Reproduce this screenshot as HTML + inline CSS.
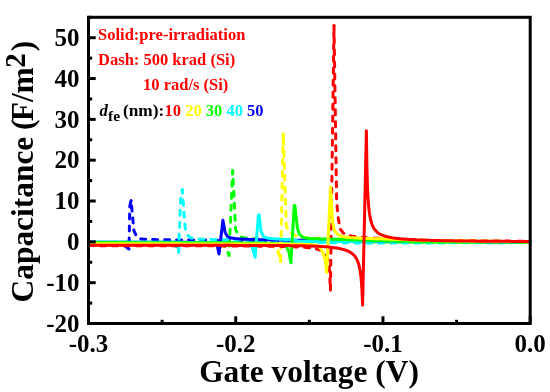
<!DOCTYPE html>
<html><head><meta charset="utf-8"><style>
html,body{margin:0;padding:0;background:#fff;}
svg{display:block;}
text{font-family:"Liberation Serif","Times New Roman",serif;font-weight:bold;}
</style></head><body>
<svg width="550" height="392" viewBox="0 0 550 392">
<rect width="550" height="392" fill="#fff"/>
<g fill="none" stroke-linejoin="round" stroke-linecap="butt">
<path d="M88.50,242.57 L90.50,242.59 L92.50,242.62 L94.50,242.65 L96.50,242.68 L98.50,242.72 L100.50,242.76 L101.00,242.77 L101.50,242.78 L102.00,242.79 L102.50,242.81 L103.00,242.82 L103.50,242.83 L104.00,242.85 L104.50,242.86 L105.00,242.88 L105.50,242.89 L106.00,242.91 L106.50,242.93 L107.00,242.94 L107.50,242.96 L108.00,242.98 L108.50,243.00 L109.00,243.02 L109.50,243.05 L110.00,243.07 L110.50,243.10 L111.00,243.12 L111.50,243.15 L112.00,243.18 L112.50,243.21 L113.00,243.24 L113.50,243.28 L114.00,243.32 L114.50,243.35 L115.00,243.40 L115.50,243.44 L116.00,243.49 L116.50,243.54 L117.00,243.60 L117.50,243.66 L118.00,243.72 L118.50,243.79 L119.00,243.87 L119.50,243.96 L120.00,244.05 L120.50,244.16 L121.00,244.27 L121.50,244.40 L122.00,244.55 L122.50,244.71 L123.00,244.90 L123.50,245.12 L124.00,245.37 L124.50,245.68 L125.30,246.30 L129.00,249.00 L129.80,206.00 L131.10,200.60 L133.90,230.50 L136.50,236.50 L140.00,238.80 L140.50,238.87 L141.00,238.92 L141.50,238.98 L142.00,239.03 L142.50,239.07 L143.00,239.11 L143.50,239.15 L144.00,239.19 L144.50,239.22 L145.00,239.25 L145.50,239.28 L146.00,239.30 L146.50,239.33 L147.00,239.35 L147.50,239.38 L148.00,239.40 L148.50,239.42 L149.00,239.44 L149.50,239.45 L150.00,239.47 L150.50,239.49 L151.00,239.50 L151.50,239.52 L152.00,239.53 L152.50,239.55 L153.00,239.56 L153.50,239.57 L154.00,239.58 L154.50,239.59 L155.00,239.61 L155.50,239.62 L156.00,239.63 L156.50,239.64 L157.00,239.65 L157.50,239.66 L158.00,239.67 L158.50,239.67 L159.00,239.68 L159.50,239.69 L160.00,239.70 L160.50,239.71 L161.00,239.72 L161.50,239.72 L162.00,239.73 L162.50,239.74 L163.00,239.74 L163.50,239.75 L164.00,239.76 L164.50,239.76 L165.00,239.77 L167.00,239.79 L169.00,239.82 L171.00,239.84 L173.00,239.86 L175.00,239.87 L177.00,239.89 L179.00,239.91 L181.00,239.92 L183.00,239.94 L185.00,239.95 L187.00,239.96 L189.00,239.98 L191.00,239.99 L193.00,240.00 L195.00,240.01 L197.00,240.03 L199.00,240.04 L201.00,240.05 L203.00,240.07 L205.00,240.09 L207.00,240.11 L209.00,240.13 L211.00,240.15 L213.00,240.17 L215.00,240.19 L217.00,240.21 L219.00,240.23 L221.00,240.25 L223.00,240.27 L225.00,240.28 L227.00,240.30 L229.00,240.32 L231.00,240.34 L233.00,240.36 L235.00,240.37 L237.00,240.39 L239.00,240.41 L241.00,240.43 L243.00,240.45 L245.00,240.46 L247.00,240.48 L249.00,240.50 L251.00,240.52 L253.00,240.53 L255.00,240.55 L257.00,240.57 L259.00,240.59 L261.00,240.60 L263.00,240.62 L265.00,240.64 L267.00,240.66 L269.00,240.67 L271.00,240.69 L273.00,240.71 L275.00,240.72 L277.00,240.74 L279.00,240.76 L281.00,240.78 L283.00,240.79 L285.00,240.81 L287.00,240.83 L289.00,240.84 L291.00,240.86 L293.00,240.88 L295.00,240.89 L297.00,240.91 L299.00,240.93 L301.00,240.94 L303.00,240.96 L305.00,240.97 L307.00,240.98 L309.00,240.99 L311.00,241.01 L313.00,241.02 L315.00,241.03 L317.00,241.05 L319.00,241.06 L321.00,241.07 L323.00,241.09 L325.00,241.10 L327.00,241.11 L329.00,241.13 L331.00,241.14 L333.00,241.15 L335.00,241.17 L337.00,241.18 L339.00,241.19 L341.00,241.20 L343.00,241.22 L345.00,241.23 L347.00,241.24 L349.00,241.26 L351.00,241.27 L353.00,241.28 L355.00,241.29 L357.00,241.31 L359.00,241.32 L361.00,241.33 L363.00,241.35 L365.00,241.36 L367.00,241.37 L369.00,241.39 L371.00,241.40 L373.00,241.41 L375.00,241.42 L377.00,241.44 L379.00,241.45 L381.00,241.46 L383.00,241.47 L385.00,241.47 L387.00,241.48 L389.00,241.49 L391.00,241.49 L393.00,241.50 L395.00,241.51 L397.00,241.52 L399.00,241.52 L401.00,241.53 L403.00,241.54 L405.00,241.54 L407.00,241.55 L409.00,241.56 L411.00,241.56 L413.00,241.57 L415.00,241.58 L417.00,241.59 L419.00,241.59 L421.00,241.60 L423.00,241.61 L425.00,241.61 L427.00,241.62 L429.00,241.63 L431.00,241.63 L433.00,241.64 L435.00,241.65 L437.00,241.65 L439.00,241.66 L441.00,241.67 L443.00,241.67 L445.00,241.68 L447.00,241.69 L449.00,241.70 L451.00,241.70 L453.00,241.71 L455.00,241.72 L457.00,241.72 L459.00,241.73 L461.00,241.74 L463.00,241.74 L465.00,241.75 L467.00,241.76 L469.00,241.76 L471.00,241.77 L473.00,241.78 L475.00,241.78 L477.00,241.79 L479.00,241.80 L481.00,241.81 L483.00,241.81 L485.00,241.82 L487.00,241.83 L489.00,241.83 L491.00,241.84 L493.00,241.85 L495.00,241.85 L497.00,241.86 L499.00,241.87 L501.00,241.87 L503.00,241.88 L505.00,241.89 L507.00,241.89 L509.00,241.90 L511.00,241.91 L513.00,241.91 L515.00,241.92 L517.00,241.93 L519.00,241.94 L521.00,241.94 L523.00,241.95 L525.00,241.96 L527.00,241.96 L529.00,241.97 L530.20,241.97" stroke="#0000ff" stroke-width="3.0" stroke-dasharray="5 7" stroke-linecap="round"/>
<circle cx="131.1" cy="200.6" r="1.5" fill="#0000ff" stroke="none"/>
<circle cx="129.0" cy="249.0" r="1.5" fill="#0000ff" stroke="none"/>
<path d="M88.50,242.25 L90.50,242.25 L92.50,242.26 L94.50,242.26 L96.50,242.26 L98.50,242.27 L100.50,242.27 L102.50,242.28 L104.50,242.28 L106.50,242.29 L108.50,242.29 L110.50,242.30 L112.50,242.30 L114.50,242.31 L116.50,242.32 L118.50,242.32 L120.50,242.33 L122.50,242.34 L124.50,242.35 L126.50,242.36 L128.50,242.37 L130.50,242.38 L132.50,242.39 L134.50,242.40 L136.50,242.42 L138.50,242.43 L140.50,242.45 L142.50,242.47 L144.50,242.49 L146.50,242.51 L148.50,242.54 L150.50,242.57 L151.00,242.58 L151.50,242.59 L152.00,242.59 L152.50,242.60 L153.00,242.61 L153.50,242.62 L154.00,242.63 L154.50,242.64 L155.00,242.66 L155.50,242.67 L156.00,242.68 L156.50,242.69 L157.00,242.70 L157.50,242.72 L158.00,242.73 L158.50,242.75 L159.00,242.76 L159.50,242.78 L160.00,242.80 L160.50,242.82 L161.00,242.84 L161.50,242.86 L162.00,242.88 L162.50,242.90 L163.00,242.92 L163.50,242.95 L164.00,242.98 L164.50,243.01 L165.00,243.04 L165.50,243.07 L166.00,243.11 L166.50,243.15 L167.00,243.19 L167.50,243.23 L168.00,243.28 L168.50,243.34 L169.00,243.40 L169.50,243.46 L170.00,243.53 L170.50,243.61 L171.00,243.70 L171.50,243.80 L172.00,243.91 L172.50,244.04 L173.00,244.19 L173.50,244.37 L174.00,244.57 L174.50,244.82 L175.00,245.12 L175.50,245.50 L178.60,252.30 L180.60,200.00 L182.30,189.80 L184.60,222.00 L185.60,230.00 L187.50,235.30 L191.00,238.00 L191.50,238.12 L192.00,238.23 L192.50,238.32 L193.00,238.41 L193.50,238.49 L194.00,238.56 L194.50,238.62 L195.00,238.68 L195.50,238.74 L196.00,238.79 L196.50,238.84 L197.00,238.88 L197.50,238.92 L198.00,238.96 L198.50,239.00 L199.00,239.03 L199.50,239.07 L200.00,239.10 L200.50,239.13 L201.00,239.15 L201.50,239.18 L202.00,239.21 L202.50,239.23 L203.00,239.25 L203.50,239.28 L204.00,239.30 L204.50,239.32 L205.00,239.34 L205.50,239.36 L206.00,239.38 L206.50,239.40 L207.00,239.41 L207.50,239.43 L208.00,239.45 L208.50,239.46 L209.00,239.48 L209.50,239.49 L210.00,239.51 L210.50,239.52 L211.00,239.54 L211.50,239.55 L212.00,239.56 L212.50,239.58 L213.00,239.59 L213.50,239.60 L214.00,239.61 L214.50,239.63 L215.00,239.64 L215.50,239.65 L216.00,239.66 L218.00,239.70 L220.00,239.75 L222.00,239.78 L224.00,239.82 L226.00,239.86 L228.00,239.89 L230.00,239.92 L232.00,239.95 L234.00,239.98 L236.00,240.01 L238.00,240.04 L240.00,240.07 L242.00,240.09 L244.00,240.12 L246.00,240.15 L248.00,240.17 L250.00,240.20 L252.00,240.22 L254.00,240.25 L256.00,240.27 L258.00,240.29 L260.00,240.32 L262.00,240.42 L264.00,240.52 L266.00,240.62 L268.00,240.72 L270.00,240.81 L272.00,240.91 L274.00,241.01 L276.00,241.11 L278.00,241.21 L280.00,241.31 L282.00,241.40 L284.00,241.50 L286.00,241.60 L288.00,241.70 L290.00,241.79 L292.00,241.89 L294.00,241.99 L296.00,242.09 L298.00,242.18 L300.00,242.28 L302.00,242.30 L304.00,242.32 L306.00,242.35 L308.00,242.37 L310.00,242.39 L312.00,242.41 L314.00,242.43 L316.00,242.45 L318.00,242.48 L320.00,242.50 L322.00,242.52 L324.00,242.54 L326.00,242.56 L328.00,242.58 L330.00,242.60 L332.00,242.63 L334.00,242.65 L336.00,242.67 L338.00,242.69 L340.00,242.71 L342.00,242.73 L344.00,242.75 L346.00,242.77 L348.00,242.80 L350.00,242.82 L352.00,242.84 L354.00,242.86 L356.00,242.88 L358.00,242.90 L360.00,242.92 L362.00,242.94 L364.00,242.96 L366.00,242.98 L368.00,243.00 L370.00,243.03 L372.00,243.05 L374.00,243.07 L376.00,243.09 L378.00,243.11 L380.00,243.13 L382.00,243.12 L384.00,243.11 L386.00,243.11 L388.00,243.10 L390.00,243.09 L392.00,243.09 L394.00,243.08 L396.00,243.07 L398.00,243.06 L400.00,243.06 L402.00,243.05 L404.00,243.04 L406.00,243.03 L408.00,243.03 L410.00,243.02 L412.00,243.01 L414.00,243.00 L416.00,243.00 L418.00,242.99 L420.00,242.98 L422.00,242.97 L424.00,242.97 L426.00,242.96 L428.00,242.95 L430.00,242.94 L432.00,242.94 L434.00,242.93 L436.00,242.92 L438.00,242.91 L440.00,242.91 L442.00,242.90 L444.00,242.89 L446.00,242.88 L448.00,242.88 L450.00,242.87 L452.00,242.86 L454.00,242.85 L456.00,242.84 L458.00,242.84 L460.00,242.83 L462.00,242.82 L464.00,242.81 L466.00,242.81 L468.00,242.80 L470.00,242.79 L472.00,242.78 L474.00,242.78 L476.00,242.77 L478.00,242.76 L480.00,242.75 L482.00,242.75 L484.00,242.74 L486.00,242.73 L488.00,242.72 L490.00,242.71 L492.00,242.71 L494.00,242.70 L496.00,242.69 L498.00,242.68 L500.00,242.68 L502.00,242.67 L504.00,242.66 L506.00,242.65 L508.00,242.65 L510.00,242.64 L512.00,242.63 L514.00,242.62 L516.00,242.61 L518.00,242.61 L520.00,242.60 L522.00,242.59 L524.00,242.58 L526.00,242.58 L528.00,242.57 L530.00,242.56 L530.20,242.56" stroke="#00ffff" stroke-width="3.0" stroke-dasharray="5 7" stroke-linecap="round"/>
<circle cx="182.3" cy="189.8" r="1.5" fill="#00ffff" stroke="none"/>
<circle cx="178.6" cy="252.3" r="1.5" fill="#00ffff" stroke="none"/>
<path d="M88.50,242.64 L90.50,242.64 L92.50,242.64 L94.50,242.64 L96.50,242.64 L98.50,242.65 L100.50,242.65 L102.50,242.65 L104.50,242.65 L106.50,242.66 L108.50,242.66 L110.50,242.66 L112.50,242.66 L114.50,242.67 L116.50,242.67 L118.50,242.67 L120.50,242.68 L122.50,242.68 L124.50,242.68 L126.50,242.69 L128.50,242.69 L130.50,242.69 L132.50,242.70 L134.50,242.70 L136.50,242.71 L138.50,242.71 L140.50,242.72 L142.50,242.72 L144.50,242.73 L146.50,242.73 L148.50,242.74 L150.50,242.74 L152.50,242.75 L154.50,242.75 L156.50,242.76 L158.50,242.77 L160.50,242.78 L162.50,242.79 L164.50,242.79 L166.50,242.80 L168.50,242.81 L170.50,242.82 L172.50,242.83 L174.50,242.85 L176.50,242.86 L178.50,242.87 L180.50,242.89 L182.50,242.91 L184.50,242.92 L186.50,242.94 L188.50,242.96 L190.50,242.99 L192.50,243.01 L194.50,243.04 L196.50,243.07 L198.50,243.11 L200.50,243.15 L202.50,243.20 L203.00,243.21 L203.50,243.23 L204.00,243.24 L204.50,243.25 L205.00,243.27 L205.50,243.29 L206.00,243.30 L206.50,243.32 L207.00,243.34 L207.50,243.36 L208.00,243.38 L208.50,243.40 L209.00,243.42 L209.50,243.44 L210.00,243.46 L210.50,243.49 L211.00,243.51 L211.50,243.54 L212.00,243.57 L212.50,243.60 L213.00,243.63 L213.50,243.67 L214.00,243.70 L214.50,243.74 L215.00,243.78 L215.50,243.83 L216.00,243.88 L216.50,243.93 L217.00,243.98 L217.50,244.04 L218.00,244.10 L218.50,244.17 L219.00,244.25 L219.50,244.33 L220.00,244.43 L220.50,244.53 L221.00,244.64 L221.50,244.76 L222.00,244.91 L222.50,245.07 L223.00,245.25 L223.50,245.46 L224.00,245.71 L224.50,246.00 L225.00,246.35 L225.50,246.78 L226.00,247.31 L226.50,248.00 L229.00,255.30 L232.70,170.80 L235.60,229.50 L238.00,234.50 L241.00,237.00 L241.50,237.16 L242.00,237.31 L242.50,237.44 L243.00,237.56 L243.50,237.66 L244.00,237.76 L244.50,237.84 L245.00,237.92 L245.50,238.00 L246.00,238.07 L246.50,238.13 L247.00,238.19 L247.50,238.25 L248.00,238.30 L248.50,238.35 L249.00,238.40 L249.50,238.44 L250.00,238.49 L250.50,238.53 L251.00,238.56 L251.50,238.60 L252.00,238.64 L252.50,238.67 L253.00,238.71 L253.50,238.74 L254.00,238.77 L254.50,238.80 L255.00,238.83 L255.50,238.85 L256.00,238.88 L256.50,238.91 L257.00,238.93 L257.50,238.96 L258.00,238.98 L258.50,239.01 L259.00,239.03 L259.50,239.05 L260.00,239.08 L260.50,239.10 L261.00,239.12 L261.50,239.14 L262.00,239.16 L262.50,239.18 L263.00,239.20 L263.50,239.22 L264.00,239.24 L264.50,239.26 L265.00,239.28 L265.50,239.29 L266.00,239.31 L268.00,239.38 L270.00,239.45 L272.00,239.51 L274.00,239.57 L276.00,239.63 L278.00,239.69 L280.00,239.75 L282.00,239.80 L284.00,239.86 L286.00,239.91 L288.00,239.96 L290.00,240.01 L292.00,240.06 L294.00,240.11 L296.00,240.16 L298.00,240.21 L300.00,240.25 L302.00,240.30 L304.00,240.34 L306.00,240.39 L308.00,240.43 L310.00,240.47 L312.00,240.52 L314.00,240.56 L316.00,240.60 L318.00,240.64 L320.00,240.69 L322.00,240.73 L324.00,240.77 L326.00,240.81 L328.00,240.85 L330.00,240.89 L332.00,240.93 L334.00,240.98 L336.00,241.02 L338.00,241.06 L340.00,241.10 L342.00,241.14 L344.00,241.18 L346.00,241.22 L348.00,241.26 L350.00,241.30 L352.00,241.34 L354.00,241.38 L356.00,241.42 L358.00,241.46 L360.00,241.50 L362.00,241.54 L364.00,241.58 L366.00,241.61 L368.00,241.65 L370.00,241.69 L372.00,241.73 L374.00,241.77 L376.00,241.81 L378.00,241.85 L380.00,241.89 L382.00,241.89 L384.00,241.90 L386.00,241.90 L388.00,241.91 L390.00,241.91 L392.00,241.91 L394.00,241.92 L396.00,241.92 L398.00,241.92 L400.00,241.93 L402.00,241.93 L404.00,241.94 L406.00,241.94 L408.00,241.94 L410.00,241.95 L412.00,241.95 L414.00,241.96 L416.00,241.96 L418.00,241.96 L420.00,241.97 L422.00,241.97 L424.00,241.97 L426.00,241.98 L428.00,241.98 L430.00,241.98 L432.00,241.99 L434.00,241.99 L436.00,241.99 L438.00,242.00 L440.00,242.00 L442.00,242.00 L444.00,242.01 L446.00,242.01 L448.00,242.01 L450.00,242.02 L452.00,242.02 L454.00,242.02 L456.00,242.03 L458.00,242.03 L460.00,242.03 L462.00,242.04 L464.00,242.04 L466.00,242.04 L468.00,242.05 L470.00,242.05 L472.00,242.05 L474.00,242.06 L476.00,242.06 L478.00,242.06 L480.00,242.07 L482.00,242.07 L484.00,242.07 L486.00,242.08 L488.00,242.08 L490.00,242.08 L492.00,242.09 L494.00,242.09 L496.00,242.09 L498.00,242.10 L500.00,242.10 L502.00,242.10 L504.00,242.11 L506.00,242.11 L508.00,242.11 L510.00,242.11 L512.00,242.12 L514.00,242.12 L516.00,242.12 L518.00,242.13 L520.00,242.13 L522.00,242.13 L524.00,242.14 L526.00,242.14 L528.00,242.14 L530.00,242.15 L530.20,242.15" stroke="#00ff00" stroke-width="3.0" stroke-dasharray="5 7" stroke-linecap="round"/>
<circle cx="232.7" cy="170.8" r="1.5" fill="#00ff00" stroke="none"/>
<circle cx="229.0" cy="255.3" r="1.5" fill="#00ff00" stroke="none"/>
<path d="M88.50,243.91 L90.50,243.91 L92.50,243.91 L94.50,243.92 L96.50,243.92 L98.50,243.92 L100.50,243.92 L102.50,243.92 L104.50,243.92 L106.50,243.92 L108.50,243.93 L110.50,243.93 L112.50,243.93 L114.50,243.93 L116.50,243.93 L118.50,243.93 L120.50,243.93 L122.50,243.94 L124.50,243.94 L126.50,243.94 L128.50,243.94 L130.50,243.94 L132.50,243.95 L134.50,243.95 L136.50,243.95 L138.50,243.95 L140.50,243.95 L142.50,243.96 L144.50,243.96 L146.50,243.96 L148.50,243.96 L150.50,243.97 L152.50,243.97 L154.50,243.97 L156.50,243.97 L158.50,243.98 L160.50,243.98 L162.50,243.98 L164.50,243.99 L166.50,243.99 L168.50,243.99 L170.50,244.00 L172.50,244.00 L174.50,244.00 L176.50,244.01 L178.50,244.01 L180.50,244.01 L182.50,244.02 L184.50,244.02 L186.50,244.03 L188.50,244.03 L190.50,244.04 L192.50,244.04 L194.50,244.05 L196.50,244.05 L198.50,244.06 L200.50,244.07 L202.50,244.07 L204.50,244.08 L206.50,244.09 L208.50,244.10 L210.50,244.11 L212.50,244.11 L214.50,244.12 L216.50,244.13 L218.50,244.14 L220.50,244.16 L222.50,244.17 L224.50,244.18 L226.50,244.19 L228.50,244.21 L230.50,244.22 L232.50,244.24 L234.50,244.26 L236.50,244.28 L238.50,244.30 L240.50,244.33 L242.50,244.36 L244.50,244.39 L246.50,244.42 L248.50,244.46 L250.50,244.50 L252.50,244.55 L254.50,244.60 L255.00,244.62 L255.50,244.63 L256.00,244.65 L256.50,244.67 L257.00,244.68 L257.50,244.70 L258.00,244.72 L258.50,244.74 L259.00,244.76 L259.50,244.78 L260.00,244.81 L260.50,244.83 L261.00,244.86 L261.50,244.88 L262.00,244.91 L262.50,244.94 L263.00,244.97 L263.50,245.00 L264.00,245.04 L264.50,245.07 L265.00,245.11 L265.50,245.15 L266.00,245.20 L266.50,245.24 L267.00,245.29 L267.50,245.35 L268.00,245.40 L268.50,245.47 L269.00,245.53 L269.50,245.61 L270.00,245.68 L270.50,245.77 L271.00,245.86 L271.50,245.97 L272.00,246.08 L272.50,246.21 L273.00,246.35 L273.50,246.51 L274.00,246.69 L274.50,246.89 L275.00,247.13 L275.50,247.41 L276.00,247.74 L276.50,248.13 L277.00,248.61 L277.70,249.50 L280.60,261.50 L283.30,133.80 L286.30,226.00 L289.20,231.60 L292.50,234.30 L297.00,236.30 L297.50,236.41 L298.00,236.51 L298.50,236.60 L299.00,236.69 L299.50,236.77 L300.00,236.85 L300.50,236.92 L301.00,236.99 L301.50,237.06 L302.00,237.12 L302.50,237.18 L303.00,237.24 L303.50,237.29 L304.00,237.35 L304.50,237.40 L305.00,237.44 L305.50,237.49 L306.00,237.53 L306.50,237.58 L307.00,237.62 L307.50,237.66 L308.00,237.70 L308.50,237.74 L309.00,237.77 L309.50,237.81 L310.00,237.84 L310.50,237.88 L311.00,237.91 L311.50,237.94 L312.00,237.97 L312.50,238.00 L313.00,238.03 L313.50,238.06 L314.00,238.09 L314.50,238.12 L315.00,238.14 L315.50,238.17 L316.00,238.20 L316.50,238.22 L317.00,238.25 L317.50,238.27 L318.00,238.30 L318.50,238.32 L319.00,238.34 L319.50,238.37 L320.00,238.39 L320.50,238.41 L321.00,238.43 L321.50,238.46 L322.00,238.48 L324.00,238.56 L326.00,238.64 L328.00,238.71 L330.00,238.79 L332.00,238.86 L334.00,238.93 L336.00,238.99 L338.00,239.06 L340.00,239.12 L342.00,239.18 L344.00,239.24 L346.00,239.30 L348.00,239.36 L350.00,239.41 L352.00,239.47 L354.00,239.52 L356.00,239.58 L358.00,239.63 L360.00,239.69 L362.00,239.74 L364.00,239.79 L366.00,239.84 L368.00,239.89 L370.00,239.94 L372.00,239.99 L374.00,240.04 L376.00,240.09 L378.00,240.14 L380.00,240.19 L382.00,240.22 L384.00,240.24 L386.00,240.26 L388.00,240.29 L390.00,240.31 L392.00,240.33 L394.00,240.35 L396.00,240.38 L398.00,240.40 L400.00,240.42 L402.00,240.44 L404.00,240.46 L406.00,240.48 L408.00,240.51 L410.00,240.53 L412.00,240.55 L414.00,240.57 L416.00,240.59 L418.00,240.61 L420.00,240.63 L422.00,240.65 L424.00,240.67 L426.00,240.69 L428.00,240.71 L430.00,240.73 L432.00,240.75 L434.00,240.77 L436.00,240.79 L438.00,240.81 L440.00,240.83 L442.00,240.85 L444.00,240.87 L446.00,240.89 L448.00,240.91 L450.00,240.93 L452.00,240.95 L454.00,240.97 L456.00,240.99 L458.00,241.01 L460.00,241.03 L462.00,241.05 L464.00,241.06 L466.00,241.08 L468.00,241.10 L470.00,241.12 L472.00,241.14 L474.00,241.16 L476.00,241.18 L478.00,241.20 L480.00,241.22 L482.00,241.24 L484.00,241.25 L486.00,241.27 L488.00,241.29 L490.00,241.31 L492.00,241.33 L494.00,241.35 L496.00,241.37 L498.00,241.39 L500.00,241.40 L502.00,241.42 L504.00,241.44 L506.00,241.46 L508.00,241.48 L510.00,241.50 L512.00,241.52 L514.00,241.53 L516.00,241.55 L518.00,241.57 L520.00,241.59 L522.00,241.61 L524.00,241.63 L526.00,241.64 L528.00,241.66 L530.00,241.68 L530.20,241.68" stroke="#ffff00" stroke-width="3.0" stroke-dasharray="5 7" stroke-linecap="round"/>
<circle cx="283.3" cy="133.8" r="1.5" fill="#ffff00" stroke="none"/>
<circle cx="280.6" cy="261.5" r="1.5" fill="#ffff00" stroke="none"/>
<path d="M88.50,245.62 L90.50,245.62 L92.50,245.62 L94.50,245.63 L96.50,245.63 L98.50,245.63 L100.50,245.63 L102.50,245.63 L104.50,245.64 L106.50,245.64 L108.50,245.64 L110.50,245.64 L112.50,245.64 L114.50,245.65 L116.50,245.65 L118.50,245.65 L120.50,245.65 L122.50,245.66 L124.50,245.66 L126.50,245.66 L128.50,245.66 L130.50,245.67 L132.50,245.67 L134.50,245.67 L136.50,245.67 L138.50,245.68 L140.50,245.68 L142.50,245.68 L144.50,245.69 L146.50,245.69 L148.50,245.69 L150.50,245.70 L152.50,245.70 L154.50,245.70 L156.50,245.71 L158.50,245.71 L160.50,245.71 L162.50,245.72 L164.50,245.72 L166.50,245.72 L168.50,245.73 L170.50,245.73 L172.50,245.74 L174.50,245.74 L176.50,245.75 L178.50,245.75 L180.50,245.75 L182.50,245.76 L184.50,245.76 L186.50,245.77 L188.50,245.77 L190.50,245.78 L192.50,245.78 L194.50,245.79 L196.50,245.80 L198.50,245.80 L200.50,245.81 L202.50,245.81 L204.50,245.82 L206.50,245.83 L208.50,245.83 L210.50,245.84 L212.50,245.85 L214.50,245.86 L216.50,245.86 L218.50,245.87 L220.50,245.88 L222.50,245.89 L224.50,245.90 L226.50,245.91 L228.50,245.92 L230.50,245.93 L232.50,245.94 L234.50,245.95 L236.50,245.96 L238.50,245.97 L240.50,245.99 L242.50,246.00 L244.50,246.01 L246.50,246.03 L248.50,246.04 L250.50,246.06 L252.50,246.08 L254.50,246.09 L256.50,246.11 L258.50,246.13 L260.50,246.15 L262.50,246.17 L264.50,246.20 L266.50,246.22 L268.50,246.25 L270.50,246.28 L272.50,246.31 L274.50,246.34 L276.50,246.37 L278.50,246.41 L280.50,246.45 L282.50,246.49 L284.50,246.54 L286.50,246.59 L288.50,246.64 L290.50,246.70 L292.50,246.77 L294.50,246.84 L296.50,246.92 L298.50,247.02 L300.50,247.12 L302.50,247.24 L304.50,247.37 L306.50,247.53 L307.00,247.58 L307.50,247.62 L308.00,247.67 L308.50,247.72 L309.00,247.77 L309.50,247.82 L310.00,247.88 L310.50,247.94 L311.00,248.00 L311.50,248.06 L312.00,248.13 L312.50,248.20 L313.00,248.28 L313.50,248.36 L314.00,248.44 L314.50,248.53 L315.00,248.62 L315.50,248.72 L316.00,248.83 L316.50,248.94 L317.00,249.07 L317.50,249.20 L318.00,249.34 L318.50,249.49 L319.00,249.65 L319.50,249.82 L320.00,250.01 L320.50,250.22 L321.00,250.45 L321.50,250.70 L322.00,250.98 L322.50,251.28 L323.00,251.62 L323.50,252.01 L324.00,252.44 L324.50,252.94 L325.00,253.51 L325.50,254.17 L326.00,254.96 L326.50,255.89 L327.00,257.03 L327.50,258.45 L328.00,260.27 L328.50,262.66 L329.00,265.98 L329.50,270.89 L330.40,290.00 L334.00,25.60 L336.60,200.00 L337.90,216.00 L340.20,229.00 L343.50,233.20 L348.00,235.20 L348.50,235.35 L349.00,235.50 L349.50,235.63 L350.00,235.75 L350.50,235.87 L351.00,235.97 L351.50,236.07 L352.00,236.17 L352.50,236.26 L353.00,236.34 L353.50,236.42 L354.00,236.50 L354.50,236.57 L355.00,236.64 L355.50,236.70 L356.00,236.77 L356.50,236.83 L357.00,236.88 L357.50,236.94 L358.00,236.99 L358.50,237.04 L359.00,237.09 L359.50,237.14 L360.00,237.19 L360.50,237.23 L361.00,237.27 L361.50,237.32 L362.00,237.36 L362.50,237.40 L363.00,237.43 L363.50,237.47 L364.00,237.51 L364.50,237.54 L365.00,237.58 L365.50,237.61 L366.00,237.64 L366.50,237.67 L367.00,237.71 L367.50,237.74 L368.00,237.77 L368.50,237.80 L369.00,237.82 L369.50,237.85 L370.00,237.88 L370.50,237.91 L371.00,237.93 L371.50,237.96 L372.00,237.99 L372.50,238.01 L373.00,238.04 L375.00,238.13 L377.00,238.22 L379.00,238.31 L381.00,238.40 L383.00,238.50 L385.00,238.60 L387.00,238.69 L389.00,238.79 L391.00,238.88 L393.00,238.96 L395.00,239.05 L397.00,239.14 L399.00,239.22 L401.00,239.30 L403.00,239.38 L405.00,239.46 L407.00,239.54 L409.00,239.62 L411.00,239.70 L413.00,239.78 L415.00,239.85 L417.00,239.93 L419.00,240.00 L421.00,240.08 L423.00,240.15 L425.00,240.23 L427.00,240.30 L429.00,240.37 L431.00,240.42 L433.00,240.44 L435.00,240.46 L437.00,240.48 L439.00,240.51 L441.00,240.53 L443.00,240.55 L445.00,240.57 L447.00,240.59 L449.00,240.61 L451.00,240.63 L453.00,240.65 L455.00,240.67 L457.00,240.69 L459.00,240.70 L461.00,240.72 L463.00,240.74 L465.00,240.76 L467.00,240.78 L469.00,240.80 L471.00,240.81 L473.00,240.83 L475.00,240.85 L477.00,240.87 L479.00,240.89 L481.00,240.90 L483.00,240.92 L485.00,240.94 L487.00,240.96 L489.00,240.97 L491.00,240.99 L493.00,241.01 L495.00,241.02 L497.00,241.04 L499.00,241.06 L501.00,241.07 L503.00,241.09 L505.00,241.11 L507.00,241.12 L509.00,241.14 L511.00,241.16 L513.00,241.17 L515.00,241.19 L517.00,241.21 L519.00,241.22 L521.00,241.24 L523.00,241.25 L525.00,241.27 L527.00,241.29 L529.00,241.30 L530.20,241.31" stroke="#ff0000" stroke-width="3.0" stroke-dasharray="5 7" stroke-linecap="round"/>
<circle cx="334.0" cy="25.6" r="1.5" fill="#ff0000" stroke="none"/>
<circle cx="330.4" cy="290.0" r="1.5" fill="#ff0000" stroke="none"/>
<path d="M88.50,242.15 L90.50,242.16 L92.50,242.16 L94.50,242.16 L96.50,242.16 L98.50,242.16 L100.50,242.16 L102.50,242.16 L104.50,242.16 L106.50,242.16 L108.50,242.16 L110.50,242.17 L112.50,242.17 L114.50,242.17 L116.50,242.17 L118.50,242.17 L120.50,242.17 L122.50,242.17 L124.50,242.18 L126.50,242.18 L128.50,242.18 L130.50,242.18 L132.50,242.18 L134.50,242.18 L136.50,242.19 L138.50,242.19 L140.50,242.19 L142.50,242.19 L144.50,242.20 L146.50,242.20 L148.50,242.20 L150.50,242.20 L152.50,242.21 L154.50,242.21 L156.50,242.21 L158.50,242.22 L160.50,242.22 L162.50,242.23 L164.50,242.23 L166.50,242.23 L168.50,242.24 L170.50,242.25 L172.50,242.25 L174.50,242.26 L176.50,242.27 L178.50,242.27 L180.50,242.28 L182.50,242.29 L184.50,242.30 L186.50,242.31 L188.50,242.33 L190.50,242.34 L192.50,242.36 L193.00,242.37 L193.50,242.37 L194.00,242.38 L194.50,242.38 L195.00,242.39 L195.50,242.39 L196.00,242.40 L196.50,242.41 L197.00,242.41 L197.50,242.42 L198.00,242.43 L198.50,242.43 L199.00,242.44 L199.50,242.45 L200.00,242.46 L200.50,242.47 L201.00,242.48 L201.50,242.49 L202.00,242.50 L202.50,242.51 L203.00,242.52 L203.50,242.54 L204.00,242.55 L204.50,242.56 L205.00,242.58 L205.50,242.60 L206.00,242.61 L206.50,242.63 L207.00,242.65 L207.50,242.68 L208.00,242.70 L208.50,242.73 L209.00,242.75 L209.50,242.79 L210.00,242.82 L210.50,242.86 L211.00,242.90 L211.50,242.95 L212.00,243.00 L212.50,243.06 L213.00,243.13 L213.50,243.21 L214.00,243.30 L214.50,243.41 L215.00,243.54 L215.50,243.70 L216.00,243.90 L216.50,244.16 L217.00,244.50 L219.00,254.00 L222.90,220.20 L225.20,232.80 L227.30,236.20 L227.80,236.57 L228.30,236.88 L228.80,237.13 L229.30,237.34 L229.80,237.52 L230.30,237.68 L230.80,237.82 L231.30,237.94 L231.80,238.05 L232.30,238.15 L232.80,238.24 L233.30,238.32 L233.80,238.39 L234.30,238.46 L234.80,238.52 L235.30,238.58 L235.80,238.63 L236.30,238.68 L236.80,238.73 L237.30,238.77 L237.80,238.81 L238.30,238.85 L238.80,238.89 L239.30,238.92 L239.80,238.96 L240.30,238.99 L240.80,239.02 L241.30,239.05 L241.80,239.07 L242.30,239.10 L242.80,239.12 L243.30,239.15 L243.80,239.17 L244.30,239.19 L244.80,239.22 L245.30,239.24 L245.80,239.26 L246.30,239.28 L246.80,239.30 L247.30,239.31 L247.80,239.33 L248.30,239.35 L248.80,239.37 L249.30,239.38 L249.80,239.40 L250.30,239.41 L250.80,239.43 L251.30,239.45 L251.80,239.46 L252.30,239.47 L254.30,239.53 L256.30,239.58 L258.30,239.63 L260.30,239.67 L262.30,239.71 L264.30,239.75 L266.30,239.79 L268.30,239.83 L270.30,239.86 L272.30,239.90 L274.30,239.93 L276.30,239.96 L278.30,239.99 L280.30,240.03 L282.30,240.06 L284.30,240.09 L286.30,240.11 L288.30,240.14 L290.30,240.17 L292.30,240.20 L294.30,240.23 L296.30,240.25 L298.30,240.28 L300.30,240.31 L302.30,240.32 L304.30,240.34 L306.30,240.36 L308.30,240.37 L310.30,240.39 L312.30,240.41 L314.30,240.42 L316.30,240.44 L318.30,240.46 L320.30,240.47 L322.30,240.49 L324.30,240.50 L326.30,240.52 L328.30,240.53 L330.30,240.55 L332.30,240.56 L334.30,240.58 L336.30,240.59 L338.30,240.61 L340.30,240.62 L342.30,240.64 L344.30,240.65 L346.30,240.67 L348.30,240.68 L350.30,240.70 L352.30,240.71 L354.30,240.72 L356.30,240.74 L358.30,240.75 L360.30,240.77 L362.30,240.78 L364.30,240.79 L366.30,240.81 L368.30,240.82 L370.30,240.84 L372.30,240.85 L374.30,240.86 L376.30,240.88 L378.30,240.89 L380.30,240.91 L382.30,240.92 L384.30,240.93 L386.30,240.95 L388.30,240.96 L390.30,240.98 L392.30,240.99 L394.30,241.01 L396.30,241.02 L398.30,241.04 L400.30,241.05 L402.30,241.06 L404.30,241.08 L406.30,241.09 L408.30,241.11 L410.30,241.12 L412.30,241.14 L414.30,241.15 L416.30,241.16 L418.30,241.18 L420.30,241.19 L422.30,241.21 L424.30,241.22 L426.30,241.23 L428.30,241.25 L430.30,241.26 L432.30,241.28 L434.30,241.29 L436.30,241.30 L438.30,241.32 L440.30,241.33 L442.30,241.35 L444.30,241.36 L446.30,241.37 L448.30,241.39 L450.30,241.40 L452.30,241.42 L454.30,241.43 L456.30,241.44 L458.30,241.46 L460.30,241.47 L462.30,241.49 L464.30,241.50 L466.30,241.51 L468.30,241.53 L470.30,241.54 L472.30,241.55 L474.30,241.57 L476.30,241.58 L478.30,241.60 L480.30,241.61 L482.30,241.62 L484.30,241.64 L486.30,241.65 L488.30,241.66 L490.30,241.68 L492.30,241.69 L494.30,241.71 L496.30,241.72 L498.30,241.73 L500.30,241.75 L502.30,241.76 L504.30,241.77 L506.30,241.79 L508.30,241.80 L510.30,241.82 L512.30,241.83 L514.30,241.84 L516.30,241.86 L518.30,241.87 L520.30,241.88 L522.30,241.90 L524.30,241.91 L526.30,241.93 L528.30,241.94 L530.20,241.95" stroke="#0000ff" stroke-width="3.0"/>
<path d="M88.50,242.22 L90.50,242.22 L92.50,242.22 L94.50,242.22 L96.50,242.22 L98.50,242.23 L100.50,242.23 L102.50,242.23 L104.50,242.23 L106.50,242.23 L108.50,242.23 L110.50,242.24 L112.50,242.24 L114.50,242.24 L116.50,242.24 L118.50,242.24 L120.50,242.25 L122.50,242.25 L124.50,242.25 L126.50,242.25 L128.50,242.25 L130.50,242.26 L132.50,242.26 L134.50,242.26 L136.50,242.27 L138.50,242.27 L140.50,242.27 L142.50,242.27 L144.50,242.28 L146.50,242.28 L148.50,242.28 L150.50,242.29 L152.50,242.29 L154.50,242.29 L156.50,242.30 L158.50,242.30 L160.50,242.31 L162.50,242.31 L164.50,242.32 L166.50,242.32 L168.50,242.33 L170.50,242.33 L172.50,242.34 L174.50,242.34 L176.50,242.35 L178.50,242.35 L180.50,242.36 L182.50,242.37 L184.50,242.38 L186.50,242.38 L188.50,242.39 L190.50,242.40 L192.50,242.41 L194.50,242.42 L196.50,242.43 L198.50,242.44 L200.50,242.46 L202.50,242.47 L204.50,242.48 L206.50,242.50 L208.50,242.52 L210.50,242.53 L212.50,242.55 L214.50,242.58 L216.50,242.60 L218.50,242.63 L220.50,242.66 L222.50,242.69 L224.50,242.73 L226.50,242.77 L228.50,242.82 L229.00,242.83 L229.50,242.85 L230.00,242.86 L230.50,242.87 L231.00,242.89 L231.50,242.91 L232.00,242.92 L232.50,242.94 L233.00,242.96 L233.50,242.98 L234.00,243.00 L234.50,243.02 L235.00,243.04 L235.50,243.06 L236.00,243.09 L236.50,243.11 L237.00,243.14 L237.50,243.17 L238.00,243.20 L238.50,243.23 L239.00,243.26 L239.50,243.30 L240.00,243.34 L240.50,243.37 L241.00,243.42 L241.50,243.46 L242.00,243.51 L242.50,243.56 L243.00,243.62 L243.50,243.68 L244.00,243.75 L244.50,243.82 L245.00,243.90 L245.50,243.98 L246.00,244.08 L246.50,244.18 L247.00,244.30 L247.50,244.42 L248.00,244.57 L248.50,244.73 L249.00,244.92 L249.50,245.14 L250.00,245.39 L250.50,245.69 L251.00,246.05 L251.50,246.49 L252.20,247.30 L255.10,257.30 L258.40,215.00 L259.20,215.00 L260.90,231.00 L263.60,236.70 L264.10,236.96 L264.60,237.18 L265.10,237.36 L265.60,237.52 L266.10,237.66 L266.60,237.78 L267.10,237.89 L267.60,237.99 L268.10,238.08 L268.60,238.16 L269.10,238.24 L269.60,238.31 L270.10,238.37 L270.60,238.43 L271.10,238.49 L271.60,238.54 L272.10,238.59 L272.60,238.64 L273.10,238.68 L273.60,238.73 L274.10,238.77 L274.60,238.81 L275.10,238.84 L275.60,238.88 L276.10,238.91 L276.60,238.95 L277.10,238.98 L277.60,239.01 L278.10,239.04 L278.60,239.07 L279.10,239.10 L279.60,239.13 L280.10,239.15 L280.60,239.18 L281.10,239.21 L281.60,239.23 L282.10,239.26 L282.60,239.28 L283.10,239.30 L283.60,239.33 L284.10,239.35 L284.60,239.37 L285.10,239.40 L285.60,239.42 L286.10,239.44 L286.60,239.46 L287.10,239.48 L287.60,239.50 L288.10,239.52 L288.60,239.54 L290.60,239.70 L292.60,240.02 L294.60,240.34 L296.60,240.66 L298.60,240.97 L300.60,241.21 L302.60,241.26 L304.60,241.30 L306.60,241.35 L308.60,241.39 L310.60,241.43 L312.60,241.48 L314.60,241.52 L316.60,241.56 L318.60,241.60 L320.60,241.64 L322.60,241.68 L324.60,241.72 L326.60,241.76 L328.60,241.80 L330.60,241.81 L332.60,241.74 L334.60,241.68 L336.60,241.62 L338.60,241.56 L340.60,241.49 L342.60,241.43 L344.60,241.37 L346.60,241.30 L348.60,241.24 L350.60,241.18 L352.60,241.11 L354.60,241.05 L356.60,240.98 L358.60,240.92 L360.60,240.88 L362.60,240.89 L364.60,240.90 L366.60,240.91 L368.60,240.93 L370.60,240.94 L372.60,240.95 L374.60,240.96 L376.60,240.97 L378.60,240.98 L380.60,240.99 L382.60,241.00 L384.60,241.02 L386.60,241.03 L388.60,241.04 L390.60,241.05 L392.60,241.06 L394.60,241.07 L396.60,241.08 L398.60,241.09 L400.60,241.10 L402.60,241.11 L404.60,241.12 L406.60,241.13 L408.60,241.14 L410.60,241.16 L412.60,241.17 L414.60,241.18 L416.60,241.19 L418.60,241.20 L420.60,241.21 L422.60,241.22 L424.60,241.23 L426.60,241.24 L428.60,241.25 L430.60,241.26 L432.60,241.27 L434.60,241.28 L436.60,241.29 L438.60,241.30 L440.60,241.31 L442.60,241.32 L444.60,241.33 L446.60,241.34 L448.60,241.35 L450.60,241.36 L452.60,241.37 L454.60,241.38 L456.60,241.39 L458.60,241.40 L460.60,241.41 L462.60,241.42 L464.60,241.43 L466.60,241.44 L468.60,241.45 L470.60,241.46 L472.60,241.47 L474.60,241.48 L476.60,241.49 L478.60,241.50 L480.60,241.51 L482.60,241.52 L484.60,241.53 L486.60,241.54 L488.60,241.55 L490.60,241.56 L492.60,241.57 L494.60,241.58 L496.60,241.59 L498.60,241.60 L500.60,241.61 L502.60,241.62 L504.60,241.63 L506.60,241.64 L508.60,241.65 L510.60,241.66 L512.60,241.67 L514.60,241.68 L516.60,241.69 L518.60,241.70 L520.60,241.71 L522.60,241.72 L524.60,241.73 L526.60,241.74 L528.60,241.75 L530.20,241.75" stroke="#00ffff" stroke-width="3.0"/>
<path d="M88.50,242.60 L90.50,242.60 L92.50,242.60 L94.50,242.60 L96.50,242.60 L98.50,242.60 L100.50,242.60 L102.50,242.61 L104.50,242.61 L106.50,242.61 L108.50,242.61 L110.50,242.61 L112.50,242.61 L114.50,242.61 L116.50,242.61 L118.50,242.62 L120.50,242.62 L122.50,242.62 L124.50,242.62 L126.50,242.62 L128.50,242.62 L130.50,242.62 L132.50,242.63 L134.50,242.63 L136.50,242.63 L138.50,242.63 L140.50,242.63 L142.50,242.63 L144.50,242.64 L146.50,242.64 L148.50,242.64 L150.50,242.64 L152.50,242.64 L154.50,242.65 L156.50,242.65 L158.50,242.65 L160.50,242.65 L162.50,242.66 L164.50,242.66 L166.50,242.66 L168.50,242.66 L170.50,242.67 L172.50,242.67 L174.50,242.67 L176.50,242.67 L178.50,242.68 L180.50,242.68 L182.50,242.68 L184.50,242.69 L186.50,242.69 L188.50,242.69 L190.50,242.70 L192.50,242.70 L194.50,242.71 L196.50,242.71 L198.50,242.72 L200.50,242.72 L202.50,242.72 L204.50,242.73 L206.50,242.74 L208.50,242.74 L210.50,242.75 L212.50,242.75 L214.50,242.76 L216.50,242.77 L218.50,242.77 L220.50,242.78 L222.50,242.79 L224.50,242.80 L226.50,242.81 L228.50,242.82 L230.50,242.83 L232.50,242.84 L234.50,242.85 L236.50,242.86 L238.50,242.88 L240.50,242.89 L242.50,242.91 L244.50,242.93 L246.50,242.94 L248.50,242.97 L250.50,242.99 L252.50,243.01 L254.50,243.04 L256.50,243.07 L258.50,243.11 L260.50,243.15 L262.50,243.19 L263.00,243.20 L263.50,243.21 L264.00,243.23 L264.50,243.24 L265.00,243.25 L265.50,243.27 L266.00,243.28 L266.50,243.30 L267.00,243.32 L267.50,243.33 L268.00,243.35 L268.50,243.37 L269.00,243.39 L269.50,243.41 L270.00,243.43 L270.50,243.45 L271.00,243.48 L271.50,243.50 L272.00,243.53 L272.50,243.55 L273.00,243.58 L273.50,243.61 L274.00,243.64 L274.50,243.68 L275.00,243.71 L275.50,243.75 L276.00,243.79 L276.50,243.83 L277.00,243.88 L277.50,243.93 L278.00,243.98 L278.50,244.04 L279.00,244.10 L279.50,244.17 L280.00,244.24 L280.50,244.32 L281.00,244.40 L281.50,244.50 L282.00,244.61 L282.50,244.72 L283.00,244.85 L283.50,245.00 L284.00,245.17 L284.50,245.36 L285.00,245.58 L285.50,245.83 L286.00,246.14 L286.50,246.50 L288.80,251.50 L290.90,262.80 L294.20,205.50 L294.90,205.50 L297.40,228.00 L299.20,234.00 L302.00,236.80 L306.00,238.20 L306.50,238.24 L307.00,238.29 L307.50,238.33 L308.00,238.36 L308.50,238.40 L309.00,238.43 L309.50,238.46 L310.00,238.49 L310.50,238.52 L311.00,238.55 L311.50,238.57 L312.00,238.60 L312.50,238.62 L313.00,238.64 L313.50,238.67 L314.00,238.69 L314.50,238.71 L315.00,238.73 L315.50,238.75 L316.00,238.77 L316.50,238.78 L317.00,238.80 L317.50,238.82 L318.00,238.84 L318.50,238.85 L319.00,238.87 L319.50,238.88 L320.00,238.90 L320.50,238.92 L321.00,238.93 L321.50,238.94 L322.00,238.96 L322.50,238.97 L323.00,238.99 L323.50,239.00 L324.00,239.01 L324.50,239.03 L325.00,239.04 L325.50,239.05 L326.00,239.07 L326.50,239.08 L327.00,239.09 L327.50,239.10 L328.00,239.11 L328.50,239.13 L329.00,239.14 L329.50,239.15 L330.00,239.16 L330.50,239.17 L331.00,239.18 L333.00,239.23 L335.00,239.27 L337.00,239.31 L339.00,239.35 L341.00,239.40 L343.00,239.47 L345.00,239.53 L347.00,239.59 L349.00,239.66 L351.00,239.72 L353.00,239.78 L355.00,239.84 L357.00,239.90 L359.00,239.96 L361.00,240.02 L363.00,240.08 L365.00,240.13 L367.00,240.19 L369.00,240.25 L371.00,240.31 L373.00,240.37 L375.00,240.43 L377.00,240.48 L379.00,240.54 L381.00,240.60 L383.00,240.66 L385.00,240.71 L387.00,240.77 L389.00,240.82 L391.00,240.88 L393.00,240.93 L395.00,240.98 L397.00,241.04 L399.00,241.09 L401.00,241.15 L403.00,241.20 L405.00,241.25 L407.00,241.31 L409.00,241.36 L411.00,241.42 L413.00,241.47 L415.00,241.52 L417.00,241.58 L419.00,241.63 L421.00,241.68 L423.00,241.74 L425.00,241.79 L427.00,241.84 L429.00,241.90 L431.00,241.93 L433.00,241.93 L435.00,241.94 L437.00,241.94 L439.00,241.95 L441.00,241.95 L443.00,241.96 L445.00,241.96 L447.00,241.97 L449.00,241.97 L451.00,241.98 L453.00,241.98 L455.00,241.99 L457.00,241.99 L459.00,241.99 L461.00,242.00 L463.00,242.00 L465.00,242.01 L467.00,242.01 L469.00,242.02 L471.00,242.02 L473.00,242.03 L475.00,242.03 L477.00,242.04 L479.00,242.04 L481.00,242.05 L483.00,242.05 L485.00,242.06 L487.00,242.06 L489.00,242.06 L491.00,242.07 L493.00,242.07 L495.00,242.08 L497.00,242.08 L499.00,242.09 L501.00,242.09 L503.00,242.10 L505.00,242.10 L507.00,242.11 L509.00,242.11 L511.00,242.11 L513.00,242.12 L515.00,242.12 L517.00,242.13 L519.00,242.13 L521.00,242.14 L523.00,242.14 L525.00,242.14 L527.00,242.15 L529.00,242.15 L530.20,242.16" stroke="#00ff00" stroke-width="3.0"/>
<path d="M88.50,243.84 L90.50,243.84 L92.50,243.85 L94.50,243.85 L96.50,243.85 L98.50,243.85 L100.50,243.85 L102.50,243.85 L104.50,243.85 L106.50,243.85 L108.50,243.85 L110.50,243.85 L112.50,243.85 L114.50,243.85 L116.50,243.85 L118.50,243.85 L120.50,243.85 L122.50,243.85 L124.50,243.85 L126.50,243.85 L128.50,243.85 L130.50,243.85 L132.50,243.85 L134.50,243.86 L136.50,243.86 L138.50,243.86 L140.50,243.86 L142.50,243.86 L144.50,243.86 L146.50,243.86 L148.50,243.86 L150.50,243.86 L152.50,243.86 L154.50,243.86 L156.50,243.86 L158.50,243.86 L160.50,243.86 L162.50,243.87 L164.50,243.87 L166.50,243.87 L168.50,243.87 L170.50,243.87 L172.50,243.87 L174.50,243.87 L176.50,243.87 L178.50,243.87 L180.50,243.87 L182.50,243.87 L184.50,243.88 L186.50,243.88 L188.50,243.88 L190.50,243.88 L192.50,243.88 L194.50,243.88 L196.50,243.88 L198.50,243.88 L200.50,243.89 L202.50,243.89 L204.50,243.89 L206.50,243.89 L208.50,243.89 L210.50,243.89 L212.50,243.89 L214.50,243.90 L216.50,243.90 L218.50,243.90 L220.50,243.90 L222.50,243.90 L224.50,243.91 L226.50,243.91 L228.50,243.91 L230.50,243.91 L232.50,243.92 L234.50,243.92 L236.50,243.92 L238.50,243.92 L240.50,243.93 L242.50,243.93 L244.50,243.93 L246.50,243.94 L248.50,243.94 L250.50,243.95 L252.50,243.95 L254.50,243.95 L256.50,243.96 L258.50,243.96 L260.50,243.97 L262.50,243.97 L264.50,243.98 L266.50,243.99 L268.50,243.99 L270.50,244.00 L272.50,244.01 L274.50,244.02 L276.50,244.03 L278.50,244.04 L280.50,244.05 L282.50,244.06 L284.50,244.07 L286.50,244.09 L288.50,244.11 L290.50,244.13 L292.50,244.15 L294.50,244.17 L296.50,244.20 L297.00,244.21 L297.50,244.22 L298.00,244.23 L298.50,244.24 L299.00,244.24 L299.50,244.25 L300.00,244.26 L300.50,244.27 L301.00,244.29 L301.50,244.30 L302.00,244.31 L302.50,244.32 L303.00,244.34 L303.50,244.35 L304.00,244.36 L304.50,244.38 L305.00,244.40 L305.50,244.41 L306.00,244.43 L306.50,244.45 L307.00,244.47 L307.50,244.50 L308.00,244.52 L308.50,244.55 L309.00,244.57 L309.50,244.60 L310.00,244.64 L310.50,244.67 L311.00,244.71 L311.50,244.75 L312.00,244.79 L312.50,244.84 L313.00,244.90 L313.50,244.96 L314.00,245.03 L314.50,245.10 L315.00,245.19 L315.50,245.29 L316.00,245.41 L316.50,245.54 L317.00,245.70 L317.50,245.89 L318.00,246.12 L318.50,246.41 L319.00,246.78 L319.60,247.40 L323.00,252.50 L325.30,260.00 L326.70,272.70 L330.50,186.70 L332.70,222.00 L334.30,230.50 L337.50,234.30 L342.80,236.70 L343.30,236.80 L343.80,236.88 L344.30,236.96 L344.80,237.04 L345.30,237.11 L345.80,237.18 L346.30,237.24 L346.80,237.30 L347.30,237.35 L347.80,237.40 L348.30,237.45 L348.80,237.50 L349.30,237.54 L349.80,237.59 L350.30,237.63 L350.80,237.66 L351.30,237.70 L351.80,237.74 L352.30,237.77 L352.80,237.80 L353.30,237.84 L353.80,237.87 L354.30,237.90 L354.80,237.92 L355.30,237.95 L355.80,237.98 L356.30,238.00 L356.80,238.03 L357.30,238.05 L357.80,238.08 L358.30,238.10 L358.80,238.12 L359.30,238.15 L359.80,238.17 L360.30,238.19 L360.80,238.21 L361.30,238.23 L361.80,238.25 L362.30,238.27 L362.80,238.29 L363.30,238.31 L363.80,238.32 L364.30,238.34 L364.80,238.36 L365.30,238.38 L365.80,238.39 L366.30,238.41 L366.80,238.43 L367.30,238.44 L367.80,238.46 L369.80,238.52 L371.80,238.58 L373.80,238.63 L375.80,238.69 L377.80,238.74 L379.80,238.79 L381.80,238.84 L383.80,238.88 L385.80,238.96 L387.80,239.04 L389.80,239.12 L391.80,239.20 L393.80,239.27 L395.80,239.35 L397.80,239.42 L399.80,239.50 L401.80,239.57 L403.80,239.65 L405.80,239.72 L407.80,239.79 L409.80,239.87 L411.80,239.94 L413.80,240.01 L415.80,240.08 L417.80,240.15 L419.80,240.22 L421.80,240.29 L423.80,240.36 L425.80,240.43 L427.80,240.50 L429.80,240.57 L431.80,240.60 L433.80,240.63 L435.80,240.65 L437.80,240.68 L439.80,240.70 L441.80,240.72 L443.80,240.75 L445.80,240.77 L447.80,240.79 L449.80,240.82 L451.80,240.84 L453.80,240.86 L455.80,240.88 L457.80,240.91 L459.80,240.93 L461.80,240.95 L463.80,240.98 L465.80,241.00 L467.80,241.02 L469.80,241.04 L471.80,241.06 L473.80,241.09 L475.80,241.11 L477.80,241.13 L479.80,241.15 L481.80,241.17 L483.80,241.20 L485.80,241.22 L487.80,241.24 L489.80,241.26 L491.80,241.28 L493.80,241.31 L495.80,241.33 L497.80,241.35 L499.80,241.37 L501.80,241.39 L503.80,241.41 L505.80,241.43 L507.80,241.46 L509.80,241.48 L511.80,241.50 L513.80,241.52 L515.80,241.54 L517.80,241.56 L519.80,241.58 L521.80,241.60 L523.80,241.63 L525.80,241.65 L527.80,241.67 L529.80,241.69 L530.20,241.69" stroke="#ffff00" stroke-width="3.0"/>
<path d="M88.50,245.31 L90.50,245.31 L92.50,245.31 L94.50,245.31 L96.50,245.31 L98.50,245.31 L100.50,245.31 L102.50,245.31 L104.50,245.31 L106.50,245.31 L108.50,245.31 L110.50,245.31 L112.50,245.31 L114.50,245.31 L116.50,245.31 L118.50,245.31 L120.50,245.31 L122.50,245.31 L124.50,245.31 L126.50,245.31 L128.50,245.31 L130.50,245.31 L132.50,245.31 L134.50,245.31 L136.50,245.31 L138.50,245.32 L140.50,245.32 L142.50,245.32 L144.50,245.32 L146.50,245.32 L148.50,245.32 L150.50,245.32 L152.50,245.32 L154.50,245.32 L156.50,245.32 L158.50,245.32 L160.50,245.32 L162.50,245.32 L164.50,245.32 L166.50,245.32 L168.50,245.32 L170.50,245.32 L172.50,245.32 L174.50,245.32 L176.50,245.33 L178.50,245.33 L180.50,245.33 L182.50,245.33 L184.50,245.33 L186.50,245.33 L188.50,245.33 L190.50,245.33 L192.50,245.33 L194.50,245.33 L196.50,245.34 L198.50,245.34 L200.50,245.34 L202.50,245.34 L204.50,245.34 L206.50,245.34 L208.50,245.34 L210.50,245.35 L212.50,245.35 L214.50,245.35 L216.50,245.35 L218.50,245.35 L220.50,245.36 L222.50,245.36 L224.50,245.36 L226.50,245.36 L228.50,245.37 L230.50,245.37 L232.50,245.37 L234.50,245.37 L236.50,245.38 L238.50,245.38 L240.50,245.39 L242.50,245.39 L244.50,245.39 L246.50,245.40 L248.50,245.40 L250.50,245.41 L252.50,245.41 L254.50,245.42 L256.50,245.43 L258.50,245.43 L260.50,245.44 L262.50,245.45 L264.50,245.45 L266.50,245.46 L268.50,245.47 L270.50,245.48 L272.50,245.49 L274.50,245.51 L276.50,245.52 L278.50,245.53 L280.50,245.55 L282.50,245.56 L284.50,245.58 L286.50,245.60 L288.50,245.62 L290.50,245.64 L292.50,245.67 L294.50,245.69 L296.50,245.72 L298.50,245.76 L300.50,245.79 L302.50,245.83 L304.50,245.87 L306.50,245.92 L308.50,245.98 L310.50,246.04 L312.50,246.10 L314.50,246.17 L316.50,246.26 L318.50,246.35 L320.50,246.45 L322.50,246.57 L324.50,246.70 L326.50,246.85 L328.50,247.02 L330.50,247.21 L332.50,247.44 L334.50,247.69 L336.50,247.99 L338.50,248.33 L339.00,248.43 L339.50,248.53 L340.00,248.63 L340.50,248.74 L341.00,248.85 L341.50,248.96 L342.00,249.09 L342.50,249.21 L343.00,249.35 L343.50,249.49 L344.00,249.63 L344.50,249.79 L345.00,249.95 L345.50,250.12 L346.00,250.29 L346.50,250.48 L347.00,250.68 L347.50,250.89 L348.00,251.11 L348.50,251.35 L349.00,251.59 L349.50,251.86 L350.00,252.14 L350.50,252.44 L351.00,252.76 L351.50,253.11 L352.00,253.48 L352.50,253.88 L353.00,254.32 L353.50,254.79 L354.00,255.31 L354.50,255.87 L355.00,256.50 L355.50,257.19 L356.00,257.95 L356.50,258.82 L357.00,259.79 L357.50,260.90 L358.00,262.17 L358.50,263.66 L359.00,265.41 L359.50,267.51 L360.00,270.07 L360.50,273.27 L361.00,277.38 L361.50,282.88 L362.00,290.59 L362.60,305.30 L366.40,130.70 L366.90,166.21 L367.40,184.56 L367.90,195.78 L368.40,203.34 L368.90,208.78 L369.40,212.89 L369.90,216.09 L370.40,218.67 L370.90,220.78 L371.40,222.55 L371.90,224.04 L372.40,225.33 L372.90,226.44 L373.40,227.42 L373.90,228.28 L374.40,229.05 L374.90,229.73 L375.40,230.35 L375.90,230.91 L376.40,231.42 L376.90,231.89 L377.40,232.32 L377.90,232.71 L378.40,233.07 L378.90,233.41 L379.40,233.72 L379.90,234.01 L380.40,234.28 L380.90,234.54 L381.40,234.78 L381.90,235.00 L382.40,235.21 L382.90,235.41 L383.40,235.60 L383.90,235.78 L384.40,235.94 L384.90,236.10 L385.40,236.26 L385.90,236.40 L386.40,236.54 L386.90,236.67 L387.40,236.79 L387.90,236.91 L388.40,237.03 L388.90,237.14 L389.40,237.24 L389.90,237.34 L390.40,237.44 L390.90,237.53 L391.40,237.62 L393.40,237.95 L395.40,238.23 L397.40,238.48 L399.40,238.70 L401.40,238.89 L403.40,239.07 L405.40,239.22 L407.40,239.36 L409.40,239.49 L411.40,239.61 L413.40,239.72 L415.40,239.82 L417.40,239.91 L419.40,239.99 L421.40,240.07 L423.40,240.15 L425.40,240.21 L427.40,240.28 L429.40,240.34 L431.40,240.39 L433.40,240.45 L435.40,240.50 L437.40,240.54 L439.40,240.59 L441.40,240.63 L443.40,240.67 L445.40,240.71 L447.40,240.75 L449.40,240.78 L451.40,240.81 L453.40,240.85 L455.40,240.88 L457.40,240.90 L459.40,240.93 L461.40,240.96 L463.40,240.98 L465.40,241.01 L467.40,241.03 L469.40,241.05 L471.40,241.08 L473.40,241.10 L475.40,241.12 L477.40,241.14 L479.40,241.15 L481.40,241.17 L483.40,241.19 L485.40,241.21 L487.40,241.22 L489.40,241.24 L491.40,241.25 L493.40,241.27 L495.40,241.28 L497.40,241.30 L499.40,241.31 L501.40,241.32 L503.40,241.34 L505.40,241.35 L507.40,241.36 L509.40,241.37 L511.40,241.38 L513.40,241.39 L515.40,241.41 L517.40,241.42 L519.40,241.43 L521.40,241.44 L523.40,241.45 L525.40,241.45 L527.40,241.46 L529.40,241.47 L530.20,241.48" stroke="#ff0000" stroke-width="3.0"/>
</g>
<g stroke="#000" stroke-width="3" fill="none">
<rect x="88.5" y="17.3" width="441.70" height="306.20"/>
<line x1="88.50" y1="323.5" x2="88.50" y2="316.3"/>
<line x1="235.73" y1="323.5" x2="235.73" y2="316.3"/>
<line x1="382.97" y1="323.5" x2="382.97" y2="316.3"/>
<line x1="530.20" y1="323.5" x2="530.20" y2="316.3"/>
<line x1="162.12" y1="323.5" x2="162.12" y2="319.8"/>
<line x1="309.35" y1="323.5" x2="309.35" y2="319.8"/>
<line x1="456.58" y1="323.5" x2="456.58" y2="319.8"/>
<line x1="88.5" y1="323.50" x2="95.7" y2="323.50"/>
<line x1="88.5" y1="282.67" x2="95.7" y2="282.67"/>
<line x1="88.5" y1="241.85" x2="95.7" y2="241.85"/>
<line x1="88.5" y1="201.02" x2="95.7" y2="201.02"/>
<line x1="88.5" y1="160.19" x2="95.7" y2="160.19"/>
<line x1="88.5" y1="119.37" x2="95.7" y2="119.37"/>
<line x1="88.5" y1="78.54" x2="95.7" y2="78.54"/>
<line x1="88.5" y1="37.71" x2="95.7" y2="37.71"/>
<line x1="88.5" y1="303.09" x2="92.2" y2="303.09"/>
<line x1="88.5" y1="262.26" x2="92.2" y2="262.26"/>
<line x1="88.5" y1="221.43" x2="92.2" y2="221.43"/>
<line x1="88.5" y1="180.61" x2="92.2" y2="180.61"/>
<line x1="88.5" y1="139.78" x2="92.2" y2="139.78"/>
<line x1="88.5" y1="98.95" x2="92.2" y2="98.95"/>
<line x1="88.5" y1="58.13" x2="92.2" y2="58.13"/>
<line x1="88.5" y1="17.30" x2="92.2" y2="17.30"/>
</g>
<g font-size="25" fill="#000">
<text x="79.5" y="331.80" text-anchor="end">-20</text>
<text x="79.5" y="290.97" text-anchor="end">-10</text>
<text x="79.5" y="250.15" text-anchor="end">0</text>
<text x="79.5" y="209.32" text-anchor="end">10</text>
<text x="79.5" y="168.49" text-anchor="end">20</text>
<text x="79.5" y="127.67" text-anchor="end">30</text>
<text x="79.5" y="86.84" text-anchor="end">40</text>
<text x="79.5" y="46.01" text-anchor="end">50</text>
<text x="88.50" y="352.4" text-anchor="middle">-0.3</text>
<text x="235.73" y="352.4" text-anchor="middle">-0.2</text>
<text x="382.97" y="352.4" text-anchor="middle">-0.1</text>
<text x="530.20" y="352.4" text-anchor="middle">0.0</text>
</g>
<text x="199.2" y="381.7" font-size="31.4" fill="#000">Gate voltage (V)</text>
<text transform="translate(33.2,302.4) rotate(-90)" font-size="31.4" fill="#000">Capacitance <tspan dx="-1.2">(</tspan><tspan dx="-1.5">F/</tspan><tspan dx="-0.3">m</tspan><tspan font-size="29" dy="-8.5" dx="-0.3">2</tspan><tspan dy="8.5" dx="2">)</tspan></text>
<g font-size="16.5" fill="#ff0000">
<text x="98.1" y="39.5">Solid:pre-irradiation</text>
<text x="98.1" y="64.7">Dash: 500 krad (Si)</text>
<text x="143.1" y="89.7">10 rad/s (Si)</text>
</g>
<g fill="#000">
<text x="99.5" y="115.6" font-size="16.8" font-style="italic" font-weight="normal">d</text>
<text x="108" y="121.1" font-size="15.5">fe</text>
<text x="123" y="115.6" font-size="17.3">(nm):</text>
</g>
<text x="164.6" y="115.6" font-size="16.5"><tspan fill="#ff0000">10 </tspan><tspan fill="#ffff00">20 </tspan><tspan fill="#00ff00">30 </tspan><tspan fill="#00ffff">40 </tspan><tspan fill="#0000ff">50</tspan></text>
</svg>
</body></html>
